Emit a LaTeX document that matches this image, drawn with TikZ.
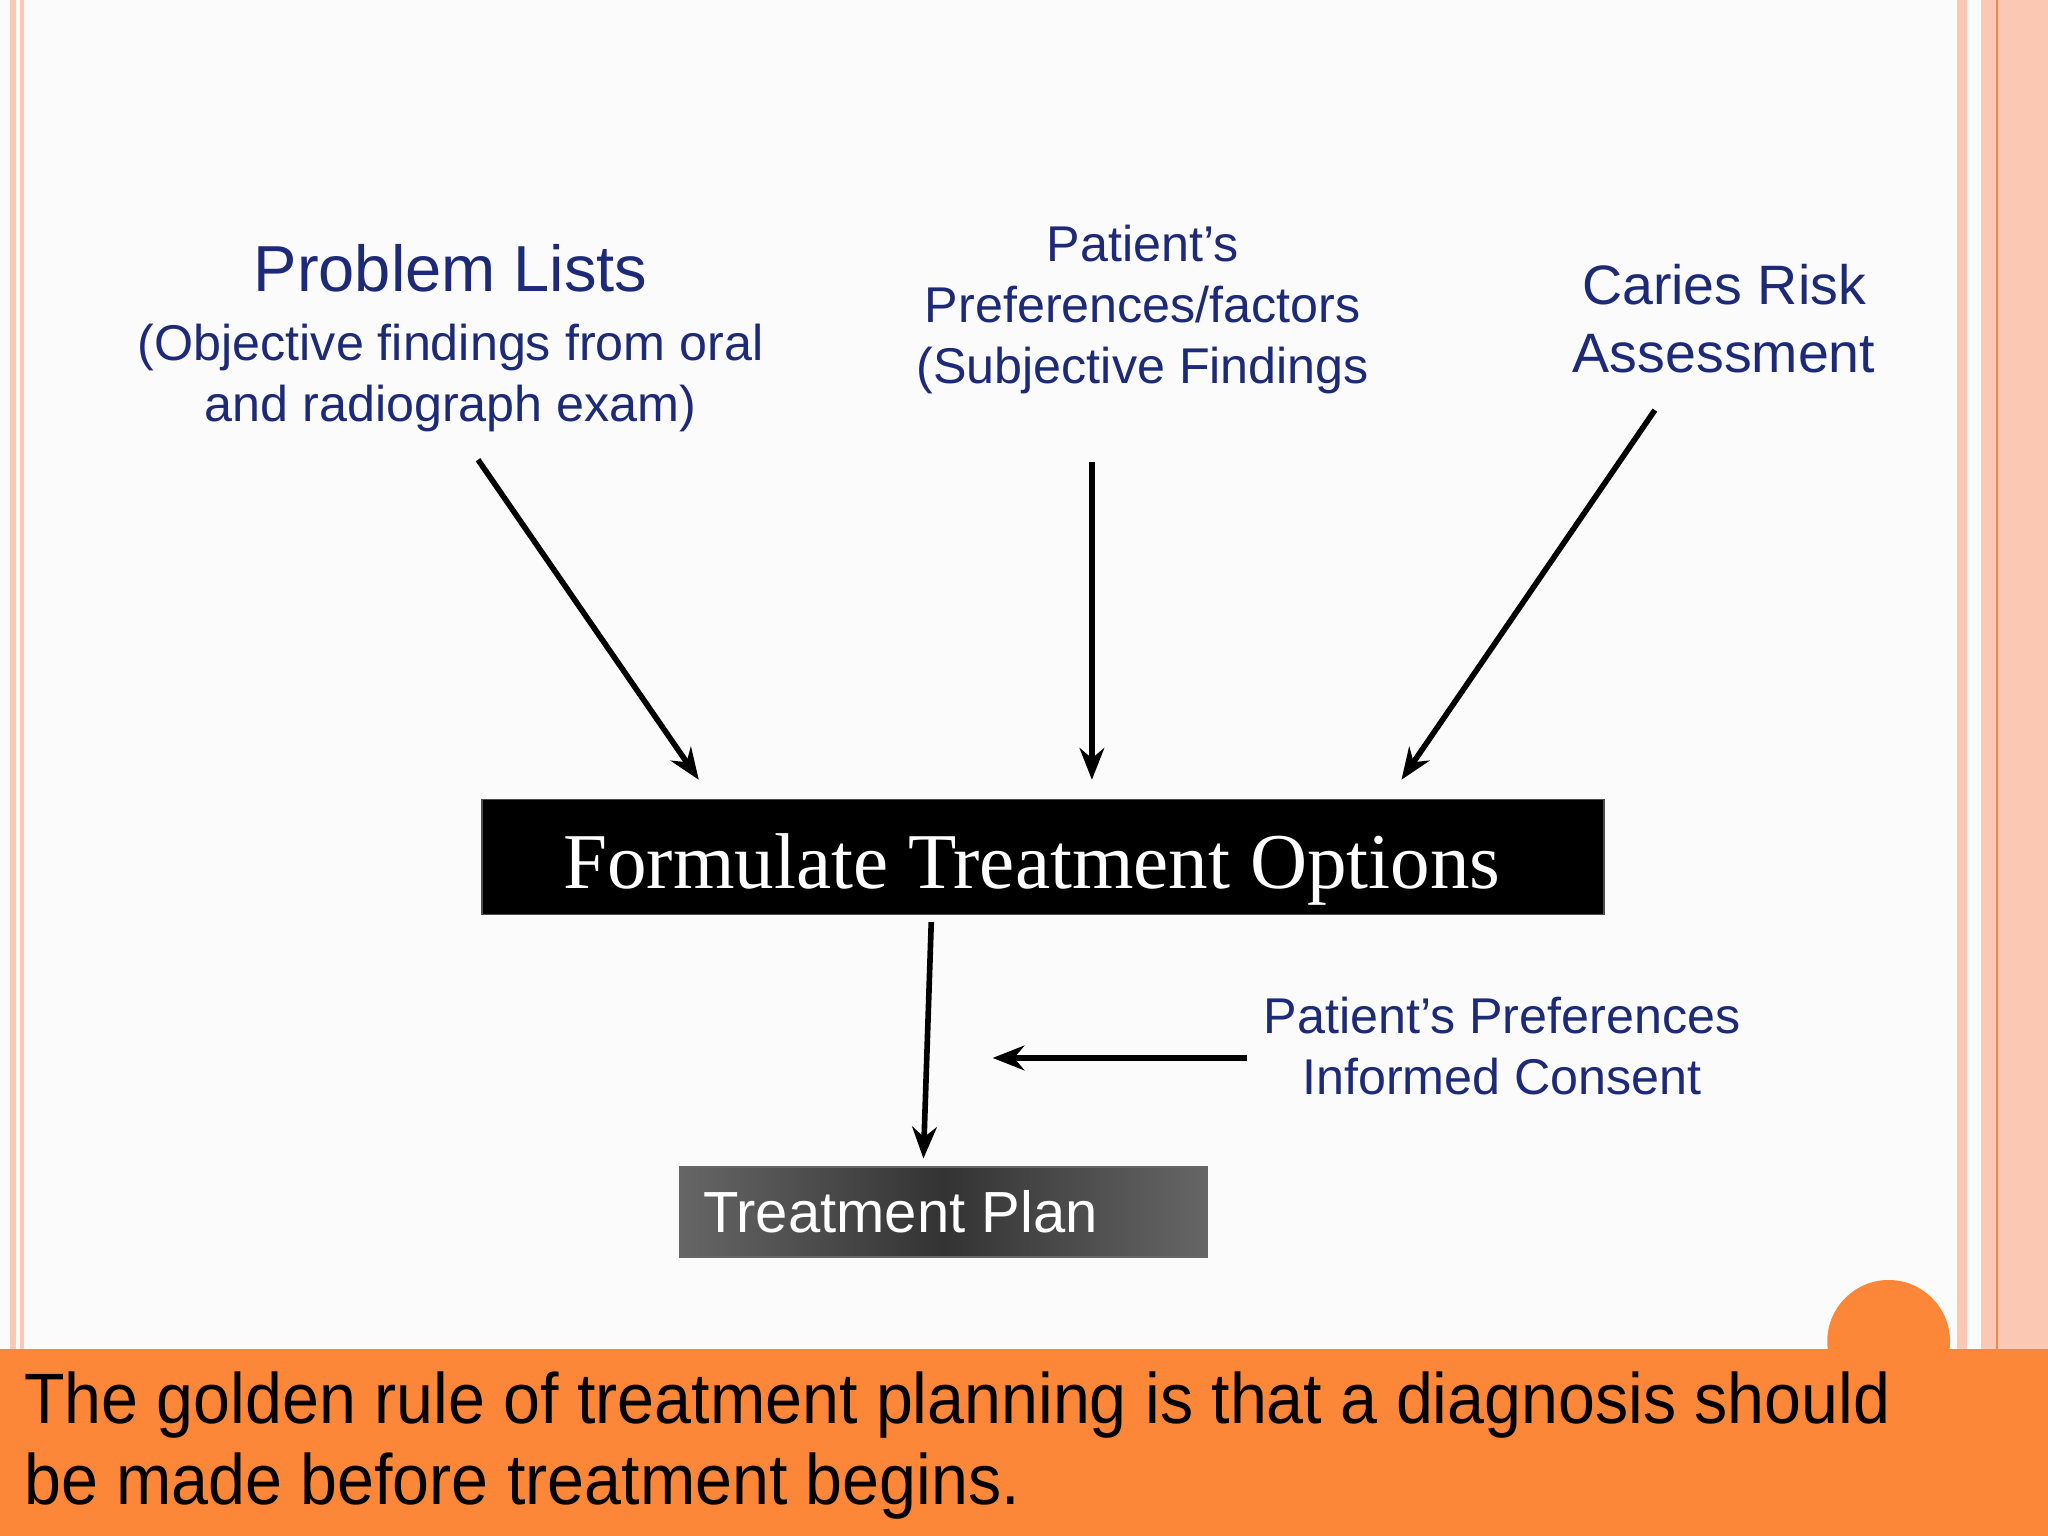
\documentclass[tikz,border=0pt]{standalone}
\usepackage{fontspec}
\setmainfont{Liberation Sans}
\newfontfamily\serifface{Liberation Serif}
\usetikzlibrary{positioning, arrows.meta}
\definecolor{navy}{HTML}{1C2A78}
\definecolor{bandorange}{HTML}{FD8739}
\definecolor{stripepink}{HTML}{FBC8B4}
\begin{document}
\begin{tikzpicture}[
    x=0.01306cm, y=-0.01306cm,
    >={Stealth[length=9pt,width=7pt]},
    flow/.style={->,line width=1.6pt,black},
    source/.style={align=center,text=navy,font=\fontsize{14.3}{17.4}\selectfont},
    darkbox/.style={draw=black!70,fill=black,text=white,minimum width=859*0.01306cm,minimum height=88*0.01306cm}
    ]
    % page and margins
    \useasboundingbox (0,0) rectangle (1568,1176);
    \fill[white!97!gray] (0,0) rectangle (1568,1176);
    \fill[stripepink] (8,0) rectangle (12,1033);
    \fill[stripepink] (15,0) rectangle (18,1033);
    \fill[stripepink] (1498,0) rectangle (1506,1033);
    \fill[stripepink] (1517,0) rectangle (1568,1033);
    \draw[bandorange,line width=0.6pt] (1529,0) -- (1529,1033);
    % bottom band
    \fill[bandorange] (1446,1027) circle (47);
    \fill[bandorange] (0,1033) rectangle (1568,1176);
    \node[anchor=north west,align=left,font=\fontsize{20.3}{23}\selectfont,inner sep=0pt,xscale=0.93] (rule) at (18,1050)
      {The golden rule of treatment planning is that a diagnosis should\\be made before treatment begins.};
    % sources
    \node[source] (problems) at (345,259) {{\fontsize{18.5}{22}\selectfont Problem Lists}\\[2pt](Objective findings from oral\\and radiograph exam)};
    \node[source] (preferences) at (875,237) {Patient’s\\Preferences/factors\\(Subjective Findings};
    \node[source,font=\fontsize{15.8}{19.2}\selectfont] (caries) at (1320,244) {Caries Risk\\Assessment};
    \node[source] (consent) at (1150,801) {Patient’s Preferences\\Informed Consent};
    % boxes
    \node[darkbox] (options) at (798.5,656) {};
    \node[text=white,font=\serifface\fontsize{22.5}{27}\selectfont,anchor=base] (options text) at (790,680) {Formulate Treatment Options};
    \node[anchor=north west,minimum width=404*0.01306cm,minimum height=69*0.01306cm,draw=black!60,
      left color=black!60,right color=black!60,middle color=black!80] (plan) at (520,893) {};
    \node[anchor=west,text=white,font=\fontsize{16.5}{20}\selectfont,inner sep=0pt] (plan text) at (538,928) {Treatment Plan};
    % connector ends
    \coordinate (a1) at (366,352);
    \coordinate (a2) at (836,354);
    \coordinate (a3) at (1267,314);
    \coordinate (a4) at (713,706);
    \coordinate (a5) at (955,810);
    \coordinate (b5) at (760,810);
    \draw[flow] (a1) -- (535,597);
    \draw[flow] (a2) -- (836,597);
    \draw[flow] (a3) -- (1073,597);
    \draw[flow] (a4) -- (707,887);
    \draw[flow] (a5) -- (b5);
\end{tikzpicture}
\end{document}
